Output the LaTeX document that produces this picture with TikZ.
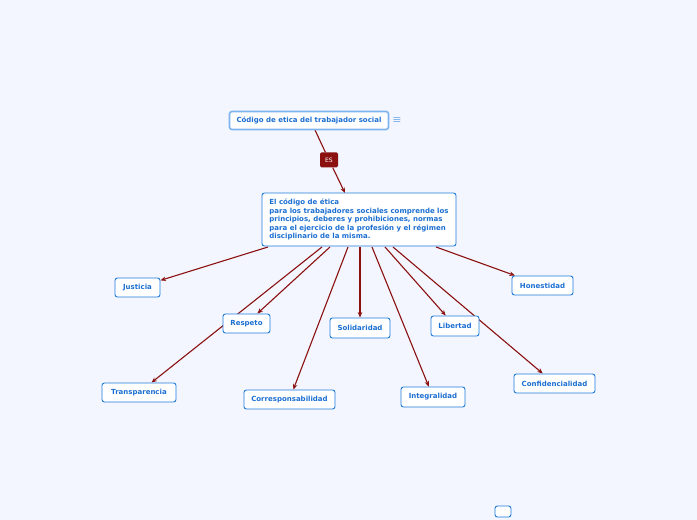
\documentclass[tikz,border=0pt]{standalone}
\usepackage{fontspec}
\setmainfont{DejaVu Sans}
\usetikzlibrary{arrows.meta,backgrounds}
\definecolor{bgc}{HTML}{F3F6FE}
\definecolor{bord}{HTML}{1F7BDB}
\definecolor{lbord}{HTML}{7DB4EE}
\definecolor{txt}{HTML}{1C6FD2}
\definecolor{red}{HTML}{8B1010}
\begin{document}
\begin{tikzpicture}[x=1pt,y=1pt,
  box/.style={draw=bord,line width=0.9pt,fill=white,rounded corners=2.5pt,inner sep=0pt,
    font=\fontsize{7}{8.5}\selectfont\bfseries,text=txt,align=center},
  conn/.style={draw=red,line width=1.1pt,-{Stealth[length=5.5pt,width=4.5pt]}},
  plain/.style={draw=red,line width=1.1pt}]
\begin{pgfonlayer}{background}
\fill[bgc] (0,0) rectangle (697,520);
\end{pgfonlayer}
\useasboundingbox (0,0) rectangle (697,520);
\node[box,draw=lbord,line width=1.6pt,minimum width=159pt,minimum height=18pt] (title) at (309,399.5) {Código de etica del trabajador social};
\node[font=\fontsize{11}{11}\selectfont,text=lbord,inner sep=0pt] (icon) at (397,399.5) {≡};
\node[fill=red,rounded corners=1.5pt,minimum width=18pt,minimum height=15pt,inner sep=0pt,text=white,font=\fontsize{6}{6}\selectfont] (es) at (329,360) {ES};
\node[box,minimum width=194pt,minimum height=53pt,align=left] (main) at (359,300.5) {El código de ética\\para los trabajadores sociales comprende los\\principios, deberes y prohibiciones, normas\\para el ejercicio de la profesión y el régimen\\disciplinario de la misma.};
\node[box,minimum width=45pt,minimum height=19pt] (justicia) at (137.5,232.5) {Justicia};
\node[box,minimum width=47pt,minimum height=19pt] (respeto) at (246.5,196.5) {Respeto};
\node[box,minimum width=60pt,minimum height=20pt] (solidaridad) at (360,192) {Solidaridad};
\node[box,minimum width=48pt,minimum height=20pt] (libertad) at (455,194) {Libertad};
\node[box,minimum width=61pt,minimum height=19pt] (honestidad) at (542.5,234.5) {Honestidad};
\node[box,minimum width=74pt,minimum height=19pt] (transparencia) at (139,127.5) {Transparencia};
\node[box,minimum width=91pt,minimum height=19pt] (corresp) at (289.5,120.5) {Corresponsabilidad};
\node[box,minimum width=64pt,minimum height=20pt] (integralidad) at (433,123) {Integralidad};
\node[box,minimum width=81pt,minimum height=19pt] (confid) at (554.5,136.5) {Confidencialidad};
\node[box,minimum width=16pt,minimum height=11pt] (empty) at (503,8.5) {};
\coordinate (t0) at (315,390);
\coordinate (s1) at (268,273);
\coordinate (s2) at (322,273);
\coordinate (s3) at (330,273);
\coordinate (s4) at (348,273);
\coordinate (s5) at (360,273);
\coordinate (s6) at (372,273);
\coordinate (s7) at (385,273);
\coordinate (s8) at (393,273);
\coordinate (s9) at (436,273);
\coordinate (m0) at (345,327);
\begin{pgfonlayer}{background}
\draw[plain] (t0) -- (es);
\draw[conn] (es) -- (m0);
\draw[conn] (s1) -- (justicia);
\draw[conn] (s2) -- (transparencia);
\draw[conn] (s3) -- (respeto);
\draw[conn] (s4) -- (corresp);
\draw[conn] (s5) -- (solidaridad);
\draw[conn] (s6) -- (integralidad);
\draw[conn] (s7) -- (libertad);
\draw[conn] (s8) -- (confid);
\draw[conn] (s9) -- (honestidad);
\end{pgfonlayer}
\end{tikzpicture}
\end{document}
